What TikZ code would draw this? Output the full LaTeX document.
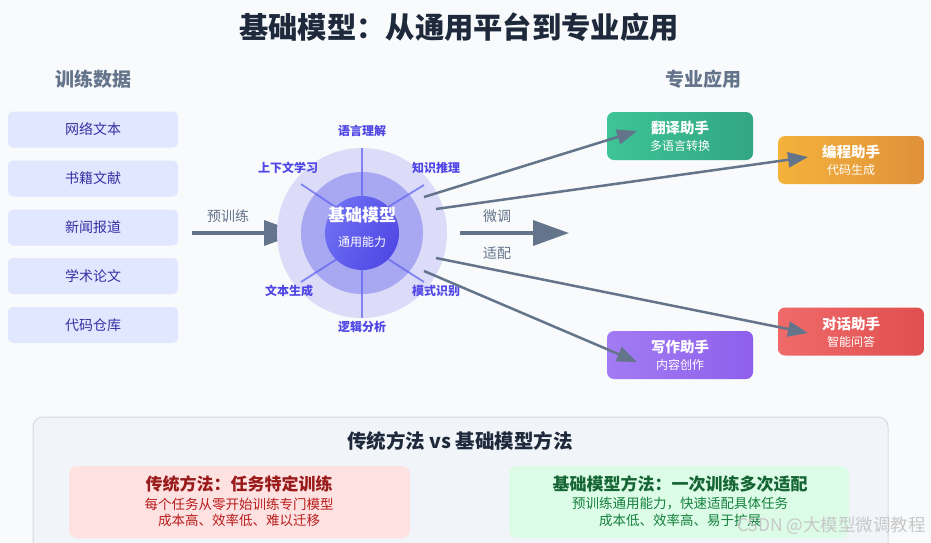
\documentclass[tikz,border=0pt]{standalone}
\usepackage{fontspec}
\setmainfont{Noto Sans CJK SC}
\usetikzlibrary{arrows.meta,calc}
\definecolor{bg}{HTML}{F8FAFC}
\definecolor{titlec}{HTML}{1E293B}
\definecolor{headc}{HTML}{64748B}
\definecolor{arrowc}{HTML}{64748B}
\definecolor{databox}{HTML}{E0E7FF}
\definecolor{datatext}{HTML}{3730A3}
\definecolor{ring1}{HTML}{DCDCF8}
\definecolor{ring2}{HTML}{A7A7F2}
\definecolor{coreL}{HTML}{6D6FF3}
\definecolor{coreR}{HTML}{5048E5}
\definecolor{spoke}{HTML}{6366F1}
\definecolor{spoketext}{HTML}{4F46E5}
\definecolor{gL}{HTML}{3EC497}
\definecolor{gR}{HTML}{31A682}
\definecolor{oL}{HTML}{F4B23B}
\definecolor{oR}{HTML}{E0913A}
\definecolor{rL}{HTML}{F06A6A}
\definecolor{rR}{HTML}{E04F4F}
\definecolor{pL}{HTML}{A27CF3}
\definecolor{pR}{HTML}{8F5FEC}
\definecolor{panel}{HTML}{F1F5F9}
\definecolor{panelb}{HTML}{D3DCE6}
\definecolor{redbox}{HTML}{FEE2E2}
\definecolor{redt}{HTML}{991B1B}
\definecolor{redt2}{HTML}{B91C1C}
\definecolor{grbox}{HTML}{DCFCE7}
\definecolor{grt}{HTML}{166534}
\definecolor{grt2}{HTML}{15803D}
\tikzset{
  databoxs/.style={fill=databox, rounded corners=5pt, minimum width=170pt, minimum height=36pt, inner sep=0pt, text=datatext, font=\fontsize{14}{16}\selectfont},
  appbox/.style={rounded corners=7pt, minimum width=146pt, minimum height=48pt, inner sep=0pt},
  apptitle/.style={text=white, font=\bfseries\fontsize{14.5}{16}\selectfont},
  appsub/.style={text=white, font=\fontsize{12}{14}\selectfont},
  spokelabel/.style={text=spoketext, font=\bfseries\fontsize{12}{14}\selectfont},
  spokeline/.style={draw=spoke, line width=1.8pt, opacity=0.75},
  bigarrow/.style={draw=arrowc, line width=3.5pt, -{Triangle[length=36pt,width=25pt]}},
  apparrow/.style={draw=arrowc, line width=2.5pt, -{Triangle[length=20pt,width=15pt]}},
  steplabel/.style={text=headc, font=\fontsize{14}{16}\selectfont},
  header/.style={text=headc, font=\bfseries\fontsize{19}{21}\selectfont},
  cmptitle/.style={font=\bfseries\fontsize{17}{19}\selectfont},
  cmpline/.style={font=\fontsize{13.5}{15}\selectfont},
}
\begin{document}
\begin{tikzpicture}[x=1pt,y=-1pt]
\useasboundingbox[fill=bg] (0,0) rectangle (931,542);

% Title
\node[text=titlec, font=\bfseries\fontsize{29.3}{31}\selectfont] (title) at (459,27) {基础模型：从通用平台到专业应用};

% Headers
\node[header] (hdata) at (93,79) {训练数据};
\node[header] (happ) at (703,79) {专业应用};

% Data boxes
\node[databoxs] (d1) at (93,129.5) {网络文本};
\node[databoxs] (d2) at (93,178.5) {书籍文献};
\node[databoxs] (d3) at (93,227.5) {新闻报道};
\node[databoxs] (d4) at (93,276) {学术论文};
\node[databoxs] (d5) at (93,325) {代码仓库};

% Pretrain arrow
\coordinate (pa) at (192,233);
\coordinate (pb) at (300,233);
\draw[bigarrow] (pa) -- (pb);
\node[steplabel] (lpre) at (228,216) {预训练};

% Circles
\coordinate (c) at (362,233);
\node[circle, fill=ring1, minimum size=170pt, inner sep=0pt] (outer) at (c) {};
\node[circle, fill=ring2, minimum size=122pt, inner sep=0pt] (mid) at (c) {};
% spokes
\coordinate (s1a) at (362,148); \coordinate (s1b) at (362,318);
\coordinate (s2a) at (301,184); \coordinate (s2b) at (337,208);
\coordinate (s3a) at (424,185); \coordinate (s3b) at (388,207);
\coordinate (s4a) at (337,259); \coordinate (s4b) at (301,282);
\coordinate (s5a) at (388,259); \coordinate (s5b) at (424,282);
\draw[spokeline] (s1a) -- (s1b);
\draw[spokeline] (s2a) -- (s2b);
\draw[spokeline] (s3a) -- (s3b);
\draw[spokeline] (s4a) -- (s4b);
\draw[spokeline] (s5a) -- (s5b);
\node[circle, left color=coreL, right color=coreR, shading angle=60, minimum size=74pt, inner sep=0pt] (core) at (c) {};
\node[text=white, font=\bfseries\fontsize{17}{19}\selectfont] (coret) at (362,215) {基础模型};
\node[text=white, font=\fontsize{12}{14}\selectfont] (cores) at (362,242) {通用能力};

% spoke labels
\node[spokelabel] (k1) at (362,131) {语言理解};
\node[spokelabel] (k2) at (288,168) {上下文学习};
\node[spokelabel] (k3) at (436,168) {知识推理};
\node[spokelabel] (k4) at (289,291) {文本生成};
\node[spokelabel] (k5) at (436,291) {模式识别};
\node[spokelabel] (k6) at (362,327) {逻辑分析};

% Finetune arrow
\coordinate (fa) at (460,233);
\coordinate (fb) at (569,233);
\draw[bigarrow] (fa) -- (fb);
\node[steplabel] (lft) at (497,216) {微调};
\node[steplabel] (lad) at (497,253) {适配};

% App boxes
\node[appbox, left color=gL, right color=gR] (a1) at (680,136) {};
\node[apptitle] at (680,128) {翻译助手};
\node[appsub] at (680,146) {多语言转换};

\node[appbox, left color=oL, right color=oR] (a2) at (851,160) {};
\node[apptitle] at (851,152) {编程助手};
\node[appsub] at (851,170) {代码生成};

\node[appbox, left color=rL, right color=rR] (a3) at (851,331.5) {};
\node[apptitle] at (851,323.5) {对话助手};
\node[appsub] at (851,341.5) {智能问答};

\node[appbox, left color=pL, right color=pR] (a4) at (680,355) {};
\node[apptitle] at (680,347) {写作助手};
\node[appsub] at (680,365) {内容创作};

% App arrows
\coordinate (o1) at (424,197); \coordinate (t1) at (637,131);
\coordinate (o2) at (436,209); \coordinate (t2) at (808,157);
\coordinate (o3) at (436,258); \coordinate (t3) at (808,333);
\coordinate (o4) at (424,271); \coordinate (t4) at (637,362);
\draw[apparrow] (o1) -- (t1);
\draw[apparrow] (o2) -- (t2);
\draw[apparrow] (o3) -- (t3);
\draw[apparrow] (o4) -- (t4);

% Bottom panel
\draw[fill=panel, draw=panelb, line width=1pt, rounded corners=10pt] (33,417) rectangle (888,560);
\node[text=titlec, font=\bfseries\fontsize{19.5}{21}\selectfont] (ptitle) at (460,441) {传统方法 vs 基础模型方法};

\node[fill=redbox, rounded corners=8pt, minimum width=341pt, minimum height=72pt, inner sep=0pt] (lb) at (239.5,502) {};
\node[text=redt, cmptitle] (lbt) at (239,484) {传统方法：任务特定训练};
\node[text=redt2, cmpline] (lb1) at (239,504) {每个任务从零开始训练专门模型};
\node[text=redt2, cmpline] (lb2) at (239,520) {成本高、效率低、难以迁移};

\node[fill=grbox, rounded corners=8pt, minimum width=340pt, minimum height=72pt, inner sep=0pt] (rb) at (679,502) {};
\node[text=grt, cmptitle] (rbt) at (680,484) {基础模型方法：一次训练多次适配};
\node[text=grt2, cmpline] (rb1) at (680,504) {预训练通用能力，快速适配具体任务};
\node[text=grt2, cmpline] (rb2) at (680,520) {成本低、效率高、易于扩展};

% Watermark
\node[text=black!22, font=\fontsize{17.5}{19}\selectfont, anchor=east, inner sep=0pt] (wm) at (926,526) {CSDN @大模型微调教程};
\end{tikzpicture}
\end{document}
